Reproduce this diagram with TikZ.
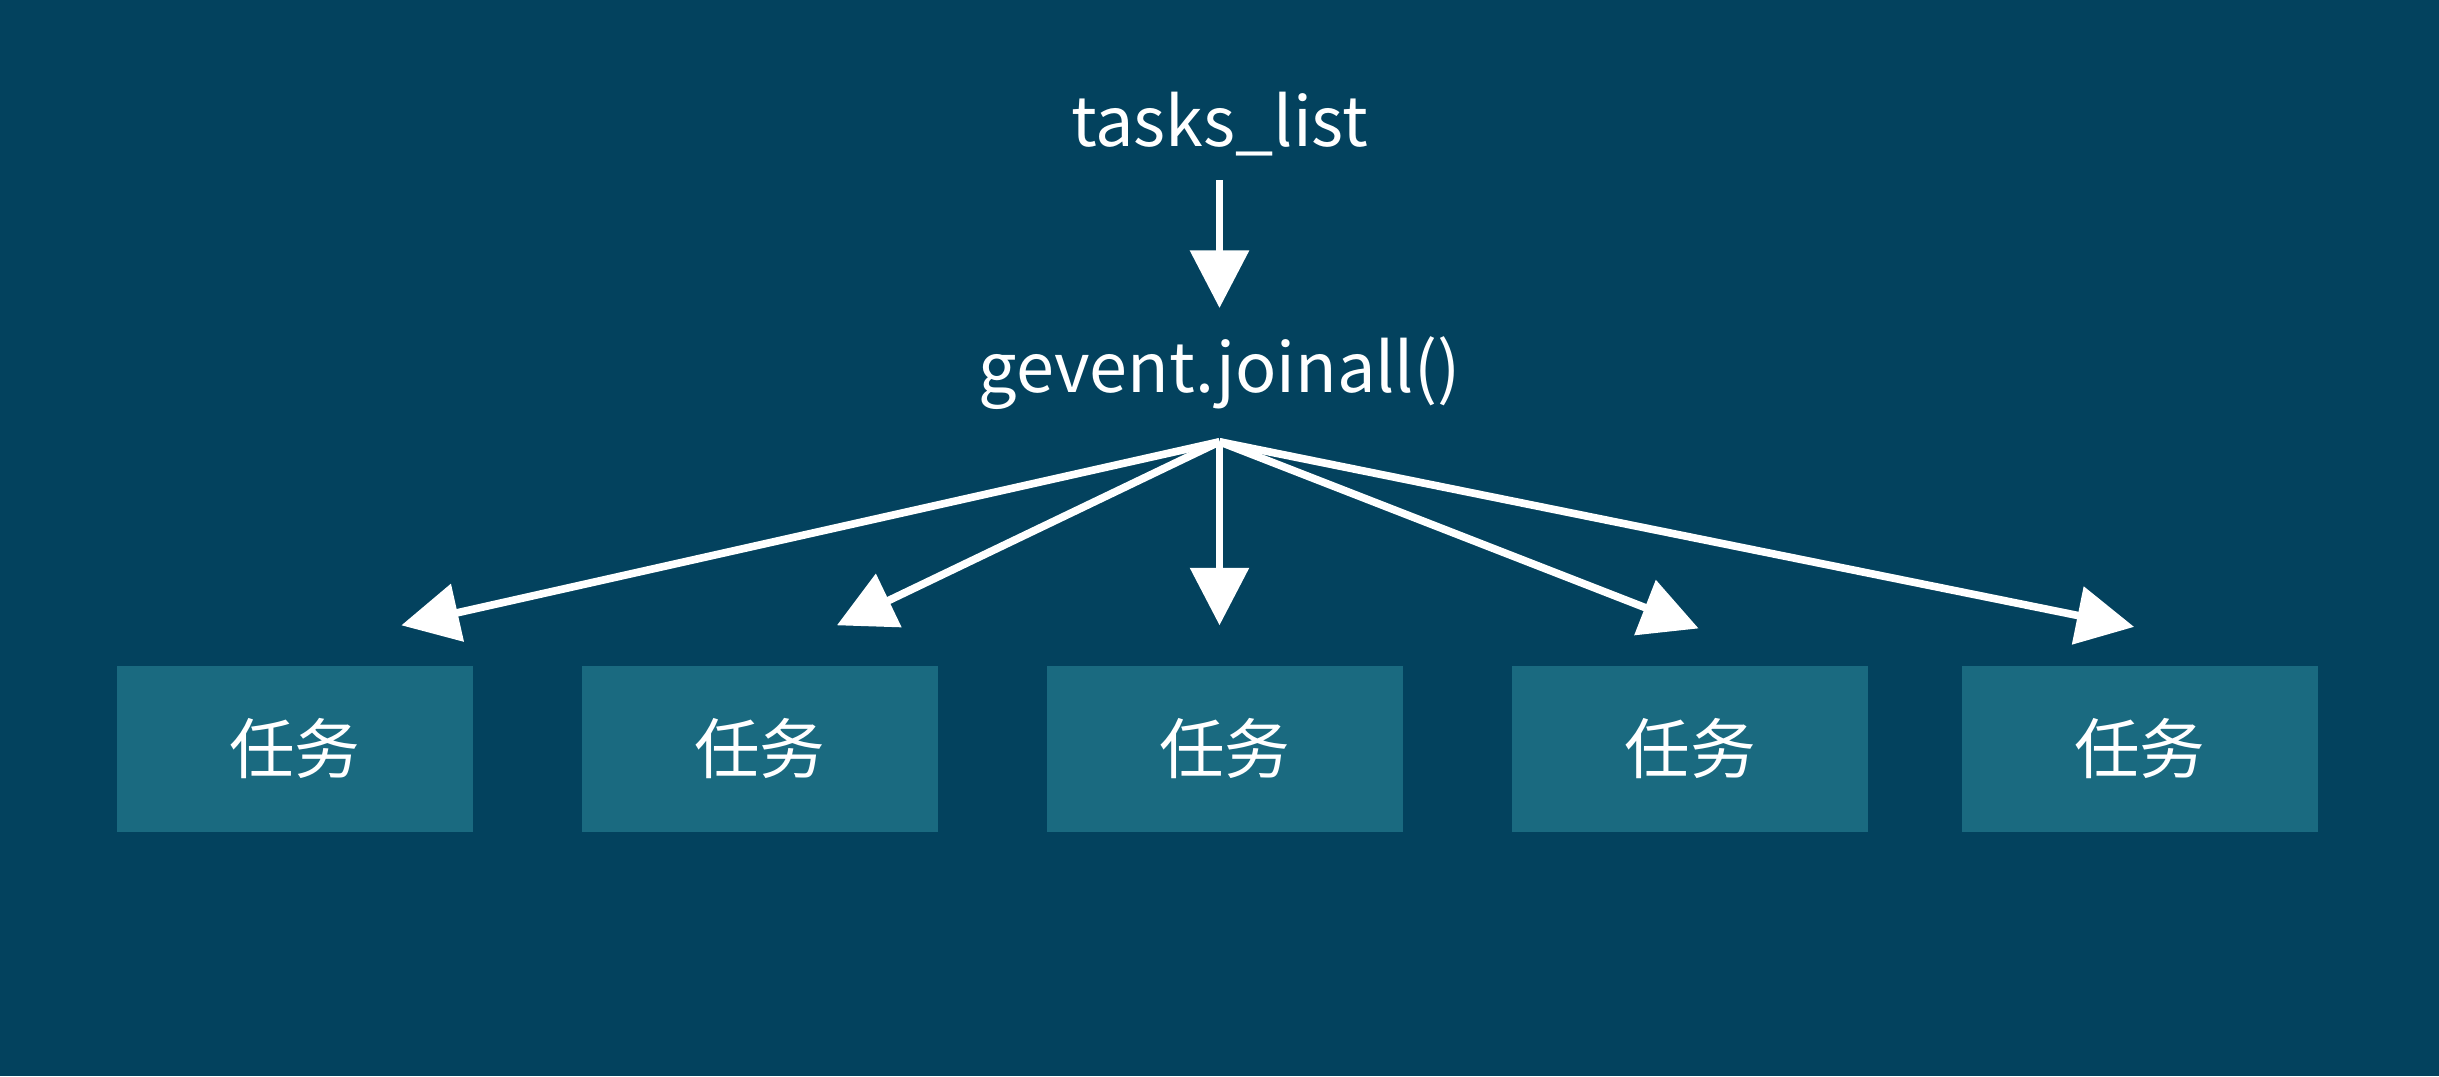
\documentclass[tikz,border=0pt]{standalone}
\usepackage{fontspec}
\setmainfont{Noto Sans CJK SC}
\usetikzlibrary{arrows.meta}
\definecolor{bgblue}{HTML}{03425E}
\definecolor{taskblue}{HTML}{1A6A80}
\tikzset{
  task/.style={fill=taskblue, minimum width=2.29cm, minimum height=1.07cm, text=white, font=\fontsize{12}{14}\selectfont},
  label/.style={text=white, font=\fontsize{12.5}{15}\selectfont},
  flow/.style={white, line width=1.4pt, -{Triangle[length=0.37cm, width=0.37cm]}}
}
\begin{document}
\begin{tikzpicture}[y=-1cm]
  \fill[bgblue] (0,0) rectangle (15.68,6.92);

  \node[label] (list) at (7.84,0.80) {tasks\_list};
  \node[label] (join) at (7.84,2.40) {gevent.joinall()};

  \node[task] (t1) at (1.895,4.815) {任务};
  \node[task] (t2) at (4.885,4.815) {任务};
  \node[task] (t3) at (7.875,4.815) {任务};
  \node[task] (t4) at (10.865,4.815) {任务};
  \node[task] (t5) at (13.755,4.815) {任务};

  \coordinate (lout) at (7.84,1.16);
  \coordinate (jin) at (7.84,1.98);
  \coordinate (jout) at (7.84,2.84);
  \coordinate (e1) at (2.58,4.02);
  \coordinate (e2) at (5.38,4.02);
  \coordinate (e3) at (7.84,4.02);
  \coordinate (e4) at (10.92,4.04);
  \coordinate (e5) at (13.72,4.03);

  \draw[flow] (lout) -- (jin);
  \foreach \e in {e1,e2,e3,e4,e5}
    \draw[flow] (jout) -- (\e);
\end{tikzpicture}
\end{document}
